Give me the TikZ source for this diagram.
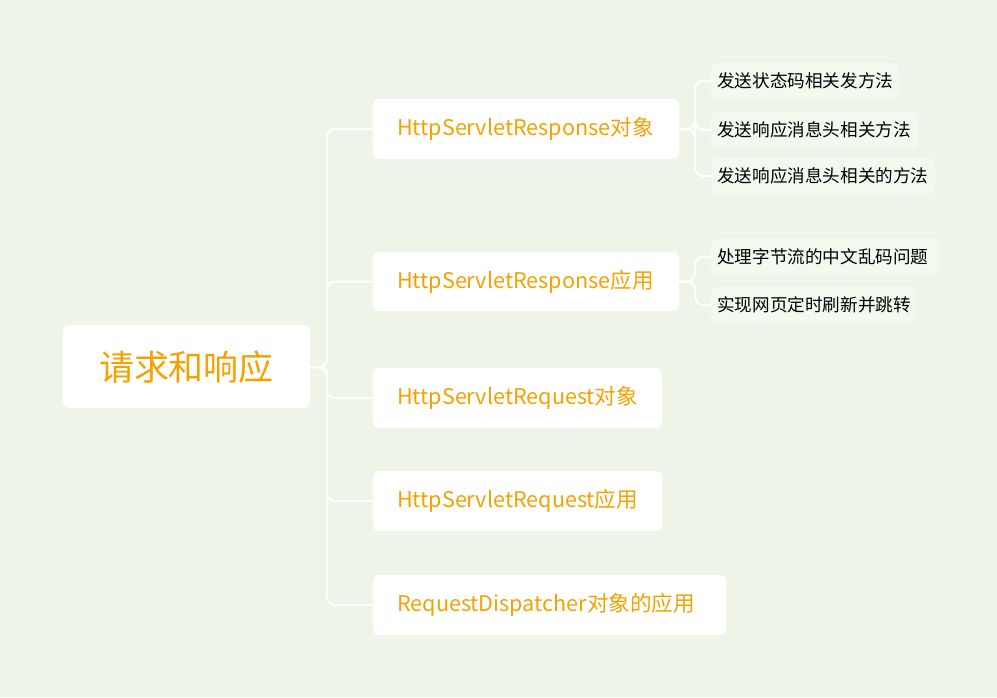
\documentclass[tikz,border=0pt]{standalone}
\usepackage{fontspec}
\setmainfont{Noto Sans CJK SC}
\definecolor{bg}{HTML}{EEF5E8}
\definecolor{org}{HTML}{F5A100}
\definecolor{leafbg}{HTML}{F4F9F0}
\begin{document}
\begin{tikzpicture}[x=1pt,y=-1pt,
 con/.style={draw=white,line width=2pt,rounded corners=8pt}]
\fill[bg] (0,0) rectangle (997,697);
\useasboundingbox (0,0) rectangle (997,697);
\fill[white,rounded corners=6pt] (63,325) rectangle (310,408);
\node[text=org,font=\fontsize{35}{40}\selectfont] (root) at (186.5,367) {请求和响应};
\coordinate (rr) at (310,367);
\foreach \n/\xa/\ya/\xb/\yb/\t in {a/373/99/679/159/HttpServletResponse对象, b/373/252/679/311/HttpServletResponse应用, c/373/368/662/428/HttpServletRequest对象, d/373/471/662/531/HttpServletRequest应用, e/373/575/726/635/RequestDispatcher对象的应用}{
 \fill[white,rounded corners=6pt] (\xa,\ya) rectangle (\xb,\yb);
 \node[text=org,font=\fontsize{21.6}{24}\selectfont,anchor=west,inner sep=0] (\n) at (397,{(\ya+\yb)/2}) {\t};
 \coordinate (\n l) at (\xa,{(\ya+\yb)/2});
 \coordinate (\n r) at (\xb,{(\ya+\yb)/2});
}
\foreach \n in {a,b,c,d,e}{ \draw[con] (rr) -- (327,367) |- (\n l); }
\foreach \n/\xb/\ya/\yb/\t/\p in {l1/899/63/99/发送状态码相关发方法/a, l2/918/112/147/发送响应消息头相关方法/a, l3/935/158/194/发送响应消息头相关的方法/a, l4/940/239/275/处理字节流的中文乱码问题/b, l5/916/287/323/实现网页定时刷新并跳转/b}{
 \fill[leafbg,rounded corners=5pt] (711,\ya) rectangle (\xb,\yb);
 \node[text=black,font=\fontsize{17.6}{20}\selectfont,anchor=west,inner sep=0] (\n) at (717,{(\ya+\yb)/2}) {\t};
 \coordinate (\n l) at (711,{(\ya+\yb)/2});
 \coordinate (\n m) at (695,0);
 \draw[con] (\p r) -- (\n m |- \p r) |- (\n l);
}
\end{tikzpicture}
\end{document}
